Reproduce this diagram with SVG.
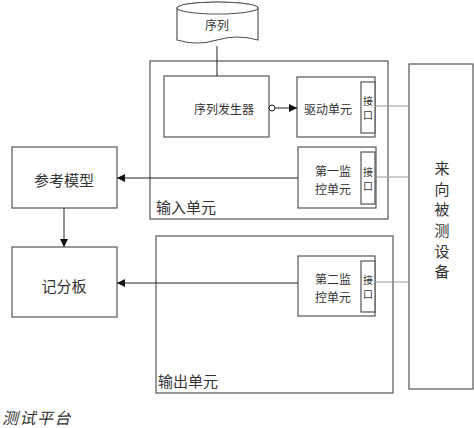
<svg xmlns="http://www.w3.org/2000/svg" width="474" height="428" viewBox="0 0 474 428">
<style>
.box{fill:#fff;stroke:#555;stroke-width:1.2}
.t{font-family:"Noto Sans CJK SC","Noto Sans",sans-serif;fill:#333;text-anchor:middle;dominant-baseline:central}
.s12{font-size:12px}
.s10{font-size:10px}
.s15{font-size:15px}
.lbl{font-family:"Noto Sans CJK SC","Noto Sans",sans-serif;fill:#333;font-size:15px}
.ln{stroke:#222;stroke-width:1;fill:none}
.gl{stroke:#999;stroke-width:1;fill:none}
</style>
<defs>
<marker id="ah" viewBox="0 0 10 10" refX="10" refY="5" markerWidth="8" markerHeight="8" markerUnits="userSpaceOnUse" orient="auto">
<path d="M0,0 L10,5 L0,10 z" fill="#111"/>
</marker>
</defs>
<rect width="474" height="428" fill="#fff"/>

<g id="input-unit">
<rect class="box" x="150" y="61" width="238" height="158"/>
<text class="lbl" x="156" y="213">输入单元</text>
</g>
<g id="output-unit">
<rect class="box" x="156" y="236" width="237" height="157"/>
<text class="lbl" x="158" y="387">输出单元</text>
</g>

<g id="sequence">
<path class="box" d="M177,8 L177,40 Q197,46 217,40 Q237,34 258,40 L258,8 A40.5,6 0 0 0 177,8 Z"/>
<ellipse cx="217.5" cy="8" rx="40.5" ry="6" fill="#fff" stroke="#555" stroke-width="1.2"/>
<text class="t s12" x="217" y="24">序列</text>
</g>

<g id="seq-gen">
<rect class="box" x="164" y="76" width="105" height="61"/>
<text class="t s12" x="224" y="108">序列发生器</text>
</g>

<g id="drive-unit">
<rect class="box" x="297" y="77" width="78" height="60"/>
<text class="t s12" x="328" y="108">驱动单元</text>
<rect class="box" x="361" y="82" width="14" height="51"/>
<text class="t s10" x="368" y="100">接</text>
<text class="t s10" x="368" y="114">口</text>
</g>

<g id="monitor1">
<rect class="box" x="298" y="147" width="78" height="61"/>
<text class="t s12" x="333" y="170">第一监</text>
<text class="t s12" x="333" y="188">控单元</text>
<rect class="box" x="361" y="152" width="14" height="52"/>
<text class="t s10" x="368" y="171">接</text>
<text class="t s10" x="368" y="185">口</text>
</g>

<g id="monitor2">
<rect class="box" x="298" y="256" width="77" height="60"/>
<text class="t s12" x="333" y="278">第二监</text>
<text class="t s12" x="333" y="296">控单元</text>
<rect class="box" x="361" y="261" width="14" height="51"/>
<text class="t s10" x="368" y="279">接</text>
<text class="t s10" x="368" y="293">口</text>
</g>

<g id="ref-model">
<rect class="box" x="12" y="147" width="105" height="61"/>
<text class="t s15" x="64" y="179">参考模型</text>
</g>

<g id="scoreboard">
<rect class="box" x="12" y="247" width="105" height="70"/>
<text class="t s15" x="64" y="285">记分板</text>
</g>

<g id="dut">
<rect class="box" x="409" y="64" width="64" height="325"/>
<text class="t s15" x="442" y="167">来</text>
<text class="t s15" x="442" y="188">向</text>
<text class="t s15" x="442" y="208">被</text>
<text class="t s15" x="442" y="229">测</text>
<text class="t s15" x="442" y="250">设</text>
<text class="t s15" x="442" y="270">备</text>
</g>

<g id="platform-label">
<text x="2" y="424" font-family="Noto Sans CJK SC, Noto Sans, sans-serif" font-size="16" font-style="italic" letter-spacing="1.5" fill="#333">测试平台</text>
</g>

<g id="connectors">
<line class="ln" x1="217" y1="46" x2="217" y2="76"/>
<circle cx="272" cy="108" r="3" fill="#fff" stroke="#222" stroke-width="1"/>
<line class="ln" x1="275" y1="108" x2="297" y2="108" marker-end="url(#ah)"/>
<line class="ln" x1="298" y1="178" x2="117" y2="178" marker-end="url(#ah)"/>
<line class="ln" x1="298" y1="283" x2="117" y2="283" marker-end="url(#ah)"/>
<line class="ln" x1="64" y1="208" x2="64" y2="247" marker-end="url(#ah)"/>
<line class="gl" x1="375" y1="106" x2="409" y2="106"/>
<line class="gl" x1="375" y1="177" x2="409" y2="177"/>
<line class="gl" x1="375" y1="282" x2="409" y2="282"/>
</g>
</svg>
